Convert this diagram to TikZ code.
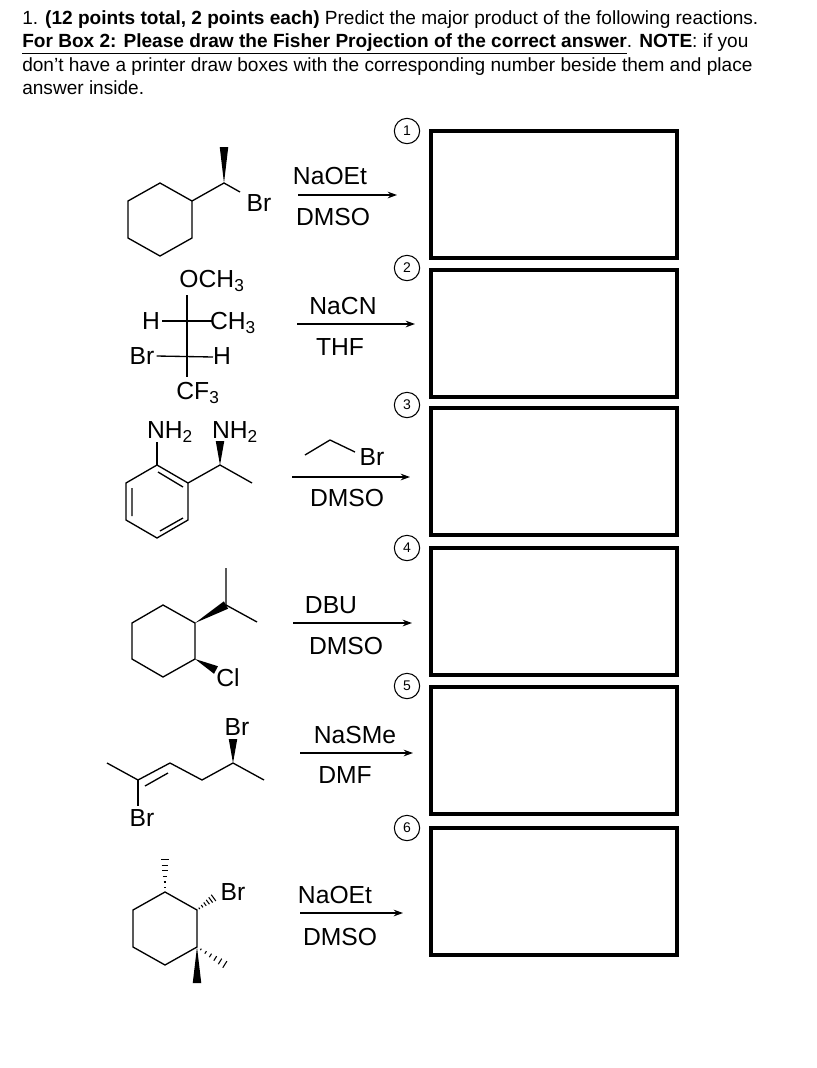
\documentclass[tikz,border=0pt]{standalone}
\usepackage{fontspec}
\setmainfont{Liberation Sans}
\usetikzlibrary{calc,arrows.meta}
\begin{document}
\begin{tikzpicture}[x=0.75pt,y=-0.75pt,
  bond/.style={line width=1pt},
  rxn/.style={line width=1pt,-{Stealth[length=7pt,width=5pt]}},
  box/.style={line width=3.2pt},
  chem/.style={font=\fontsize{18.5}{21}\selectfont,inner sep=0pt},
  head/.style={font=\fontsize{14.3}{17}\selectfont,anchor=base west,inner sep=0pt},
  num/.style={circle,draw,line width=0.8pt,minimum size=19pt,inner sep=0pt,font=\fontsize{10.5}{11}\selectfont}]
\useasboundingbox (0,0) rectangle (817,1068);
\newcommand{\wdg}[2]{\fill ($(#1)$) -- ($(#2)!3.2pt!90:(#1)$) -- ($(#2)!3.2pt!-90:(#1)$) -- cycle;}
\newcommand{\hsh}[2]{\foreach \t [evaluate=\t as \w using 0.3+3*\t] in {0.12,0.27,...,1.0}{\draw[line width=0.8pt] ($(#1)!\t!(#2)!\w pt!90:(#2)$) -- ($(#1)!\t!(#2)!\w pt!-90:(#2)$);}}
% header
\node[head] (h1) at (22,24) {1. \textbf{(12 points total, 2 points each)} Predict the major product of the following reactions.};
\node[head] (h2) at (22,47) {\textbf{\underline{For Box 2: Please draw the Fisher Projection of the correct answer}}. \textbf{NOTE}: if you};
\node[head] (h3) at (22,71) {don’t have a printer draw boxes with the corresponding number beside them and place};
\node[head] (h4) at (22,94) {answer inside.};
% boxes
\foreach \i/\y in {1/131,2/270,3/408,4/548,5/687,6/828}{
  \draw[box] (431,\y) rectangle (677,\y+127);
}
\node[num] (n1) at (407,131) {1};
\node[num] (n2) at (407,268) {2};
\node[num] (n3) at (407,405) {3};
\node[num] (n4) at (407,548) {4};
\node[num] (n5) at (407,686) {5};
\node[num] (n6) at (407,828) {6};
% ---- molecule 1
\coordinate (a1) at (128,201); \coordinate (a2) at (160,183); \coordinate (a3) at (192,201);
\coordinate (a4) at (192,238); \coordinate (a5) at (160,256); \coordinate (a6) at (128,238);
\draw[bond] (a1)--(a2)--(a3)--(a4)--(a5)--(a6)--cycle;
\coordinate (a7) at (224,183); \coordinate (a8) at (224,147); \coordinate (a9) at (240,192);
\draw[bond] (a3)--(a7)--(a9);
\wdg{a7}{a8}
\node[chem] (br1) at (259,203) {Br};
\coordinate (r1s) at (298,195); \coordinate (r1e) at (397,195);
\draw[rxn] (r1s)--(r1e);
\node[chem] (t1a) at (330,176) {NaOEt};
\node[chem] (t1b) at (333,217) {DMSO};
% ---- Fischer
\node[chem] (och3) at (212,281) {OCH\textsubscript{3}};
\node[chem] (fh1) at (151,321) {H};
\node[chem] (fch3) at (233,323) {CH\textsubscript{3}};
\node[chem] (fbr) at (142,356) {Br};
\node[chem] (fh2) at (222,356) {H};
\node[chem] (cf3) at (198,393) {CF\textsubscript{3}};
\draw[bond] (187,295) -- (187,377);
\draw[bond] (fh1.east) ++(2,0) -- (213,321);
\draw[bond] (fbr.east) ++(2,0) -- (213,357);
\coordinate (r2s) at (297,324); \coordinate (r2e) at (415,324);
\draw[rxn] (r2s)--(r2e);
\node[chem] (t2a) at (343,306) {NaCN};
\node[chem] (t2b) at (340,347) {THF};
% ---- molecule 3
\coordinate (b1) at (157,465); \coordinate (b2) at (188,483); \coordinate (b3) at (188,520);
\coordinate (b4) at (157,538); \coordinate (b5) at (126,520); \coordinate (b6) at (126,483);
\draw[bond] (b1)--(b2)--(b3)--(b4)--(b5)--(b6)--cycle;
\draw[bond] (132,488)--(132,516) (160,531)--(183,518) (158,472)--(183,487);
\coordinate (b7) at (157,442); \draw[bond] (b1)--(b7);
\coordinate (b8) at (220,465); \coordinate (b9) at (220,441); \coordinate (b10) at (252,483);
\draw[bond] (b2)--(b8)--(b10);
\wdg{b8}{b9}
\node[chem] (nh1) at (170,432) {NH\textsubscript{2}};
\node[chem] (nh2) at (235,432) {NH\textsubscript{2}};
\coordinate (e1) at (305,455); \coordinate (e2) at (330,440); \coordinate (e3) at (355,452);
\draw[bond] (e1)--(e2)--(e3);
\node[chem] (br3) at (372,457) {Br};
\coordinate (r3s) at (292,477); \coordinate (r3e) at (410,477);
\draw[rxn] (r3s)--(r3e);
\node[chem] (t3b) at (347,498) {DMSO};
% ---- molecule 4
\coordinate (c1) at (132,623); \coordinate (c2) at (163,605); \coordinate (c3) at (195,623);
\coordinate (c4) at (195,659); \coordinate (c5) at (163,677); \coordinate (c6) at (132,659);
\draw[bond] (c1)--(c2)--(c3)--(c4)--(c5)--(c6)--cycle;
\coordinate (c7) at (226,605); \coordinate (c8) at (226,568); \coordinate (c9) at (257,622);
\wdg{c3}{c7}
\draw[bond] (c7)--(c8) (c7)--(c9);
\coordinate (c10) at (216,670);
\wdg{c4}{c10}
\node[chem] (cl) at (228,678) {Cl};
\coordinate (r4s) at (293,623); \coordinate (r4e) at (412,623);
\draw[rxn] (r4s)--(r4e);
\node[chem] (t4a) at (331,605) {DBU};
\node[chem] (t4b) at (346,646) {DMSO};
% ---- molecule 5
\coordinate (d1) at (107,763); \coordinate (d2) at (138,780); \coordinate (d3) at (170,763);
\coordinate (d4) at (202,780); \coordinate (d5) at (233,763); \coordinate (d6) at (264,780);
\draw[bond] (d1)--(d2)--(d3)--(d4)--(d5)--(d6);
\draw[bond] (145,786)--(168,773);
\coordinate (d7) at (138,806); \draw[bond] (d2)--(d7);
\coordinate (d8) at (233,739); \wdg{d5}{d8}
\node[chem] (br5a) at (237,727) {Br};
\node[chem] (br5b) at (142,818) {Br};
\coordinate (r5s) at (300,753); \coordinate (r5e) at (413,753);
\draw[rxn] (r5s)--(r5e);
\node[chem] (t5a) at (355,735) {NaSMe};
\node[chem] (t5b) at (345,775) {DMF};
% ---- molecule 6
\coordinate (f1) at (165,892); \coordinate (f2) at (197,910); \coordinate (f3) at (197,947);
\coordinate (f4) at (165,965); \coordinate (f5) at (133,947); \coordinate (f6) at (133,910);
\draw[bond] (f1)--(f2)--(f3)--(f4)--(f5)--(f6)--cycle;
\coordinate (f7) at (165,855); \hsh{f1}{f7}
\coordinate (f8) at (216,896); \hsh{f2}{f8}
\node[chem] (br6) at (233,892) {Br};
\coordinate (f9) at (197,983); \wdg{f3}{f9}
\coordinate (f10) at (229,967); \hsh{f3}{f10}
\coordinate (r6s) at (300,913); \coordinate (r6e) at (403,913);
\draw[rxn] (r6s)--(r6e);
\node[chem] (t6a) at (335,895) {NaOEt};
\node[chem] (t6b) at (340,937) {DMSO};
\end{tikzpicture}
\end{document}
